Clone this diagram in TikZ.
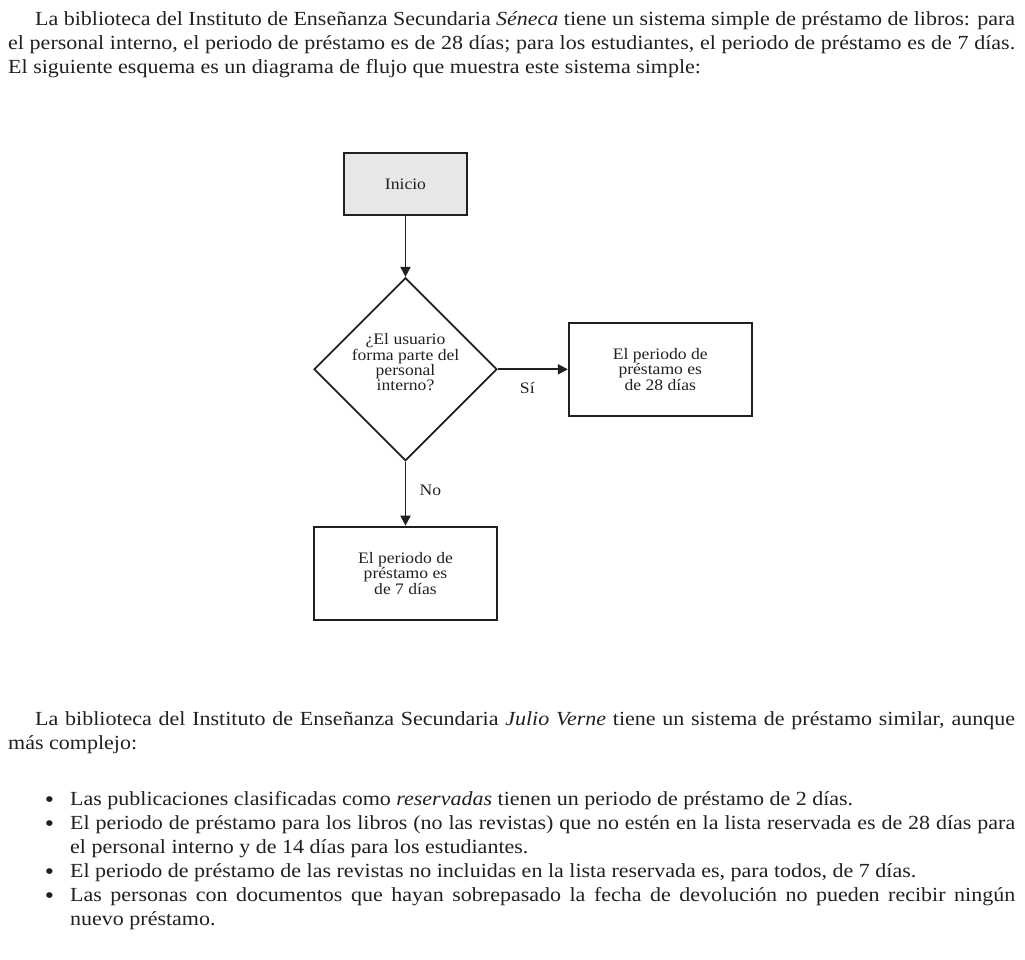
\documentclass[tikz,border=0pt]{standalone}
\usepackage{fontspec}
\setmainfont{Liberation Serif}[FakeStretch=1.1]
\usepackage{xcolor}
\usetikzlibrary{positioning,arrows.meta,shapes.geometric}

\definecolor{startgray}{HTML}{E6E7E8}
\definecolor{ink}{HTML}{231F20}

\newcommand{\itemdot}{\leavevmode\llap{\raisebox{-2pt}{\fontsize{24}{20}\selectfont •}\hspace{16pt}}}

\begin{document}
\begin{tikzpicture}[
    x=1pt, y=1pt,
    node distance=61pt,
    box/.style={
        rectangle,
        minimum width=183pt,
        minimum height=93pt,
        align=center,
        draw=ink,
        line width=1.8pt,
        text=ink,
        font=\fontsize{16}{13}\selectfont
    },
    decision/.style={
        diamond,
        aspect=1,
        minimum width=183pt,
        minimum height=183pt,
        inner sep=0pt,
        align=center,
        draw=ink,
        line width=1.8pt,
        text=ink,
        font=\fontsize{16}{12.7}\selectfont
    },
    line/.style={
        -{Triangle[length=10pt,width=10pt]},
        draw=ink,
        line width=1.8pt
    },
    answer/.style={
        text=ink,
        font=\fontsize{16}{16}\selectfont
    },
    para/.style={
        anchor=north west,
        inner sep=0pt,
        text width=#1,
        align=justify,
        text=ink,
        font=\fontsize{20}{24}\selectfont
    }
]
\useasboundingbox (0,0) rectangle (1025,-960);

% introduction
\node[para=1007pt] (P1) at (8,-11) {\hspace*{27pt}La biblioteca del Instituto de Enseñanza Secundaria \textit{Séneca} tiene un sistema simple de préstamo de libros: para\linebreak
el personal interno, el periodo de préstamo es de 28 días; para los estudiantes, el periodo de préstamo es de 7 días.\linebreak
El siguiente esquema es un diagrama de flujo que muestra este sistema simple:};

% flow chart
\node[box,fill=startgray,minimum width=123pt,minimum height=62pt] (A) at (405.5,-184) {Inicio};
\node[decision,below=61pt of A] (B) {¿El usuario\\forma parte del\\personal\\interno?\\[2pt]};
\node[box,right=70pt of B] (C) {El periodo de\\préstamo es\\de 28 días};
\node[box,below=64pt of B] (D) {El periodo de\\préstamo es\\de 7 días};

\draw[line] (A) -- (B);
\draw[line] (B) -- node[answer,below=9pt,pos=0.42] (yes) {Sí} (C);
\draw[line] (B) -- node[answer,right=10pt,pos=0.45] (no) {No} (D);

% second part
\node[para=1007pt] (P2) at (8,-711) {\hspace*{27pt}La biblioteca del Instituto de Enseñanza Secundaria \textit{Julio Verne} tiene un sistema de préstamo similar, aunque\linebreak
más complejo:};

\node[para=945pt] (L) at (70,-791) {%
\itemdot Las publicaciones clasificadas como \textit{reservadas} tienen un periodo de préstamo de 2 días.\par
\itemdot El periodo de préstamo para los libros (no las revistas) que no estén en la lista reservada es de 28 días para\linebreak
el personal interno y de 14 días para los estudiantes.\par
\itemdot El periodo de préstamo de las revistas no incluidas en la lista reservada es, para todos, de 7 días.\par
\itemdot Las personas con documentos que hayan sobrepasado la fecha de devolución no pueden recibir ningún\linebreak
nuevo préstamo.};

\end{tikzpicture}
\end{document}
